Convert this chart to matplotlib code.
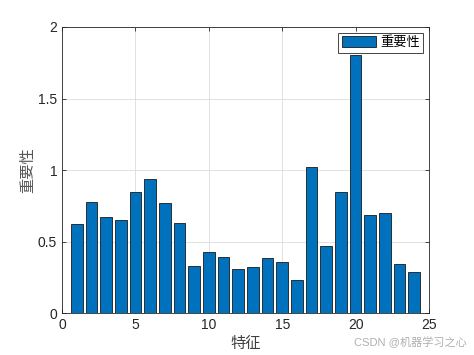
import matplotlib
matplotlib.use('Agg')
import matplotlib.pyplot as plt

plt.rcParams['font.family'] = ['Liberation Sans', 'Noto Sans CJK SC', 'DejaVu Sans']

features = list(range(1, 25))
importance = [0.62, 0.775, 0.67, 0.65, 0.85, 0.935, 0.77, 0.63, 0.326, 0.43,
              0.39, 0.31, 0.32, 0.384, 0.354, 0.228, 1.019, 0.467, 0.85, 1.805,
              0.684, 0.70, 0.342, 0.286]
xticks = [0, 5, 10, 15, 20, 25]
yticks = [0, 0.5, 1, 1.5, 2]

fig = plt.figure(figsize=(4.74, 3.55), dpi=100)
ax = fig.add_axes([0.131, 0.118, 0.774, 0.806])

ax.bar(features, importance, width=0.8, color='#0072BD', edgecolor='#1a1a1a',
       linewidth=0.6, label='重要性', zorder=3)

ax.set_xlim(0, 25)
ax.set_ylim(0, 2)
ax.set_xticks(xticks)
ax.set_yticks(yticks)
ax.set_yticklabels(['0', '0.5', '1', '1.5', '2'])
ax.tick_params(direction='in', top=True, right=True, length=3, width=0.6,
               labelsize=10, colors='#262626')
ax.grid(True, color='#dcdcdc', linewidth=0.6, zorder=0)
for s in ax.spines.values():
    s.set_linewidth(0.6)
    s.set_color('#262626')

ax.set_xlabel('特征', family=['Noto Sans CJK SC'], fontsize=11, color='#404040', labelpad=2)
ax.set_ylabel('重要性', family=['Noto Sans CJK SC'], fontsize=11, color='#555555', labelpad=1)

leg = ax.legend(loc='upper right', prop={'family': 'Noto Sans CJK SC', 'size': 9.5},
                fancybox=False, edgecolor='#262626', framealpha=1,
                handlelength=2.6, handleheight=0.9, borderpad=0.25,
                borderaxespad=0.45, handletextpad=0.3)
leg.get_frame().set_linewidth(0.6)

fig.text(0.985, 0.02, 'CSDN @机器学习之心', ha='right', va='bottom', fontsize=8,
         color='#b0b0b0', family=['Liberation Sans', 'Noto Sans CJK SC'])

fig.savefig('out.png', dpi=100)
